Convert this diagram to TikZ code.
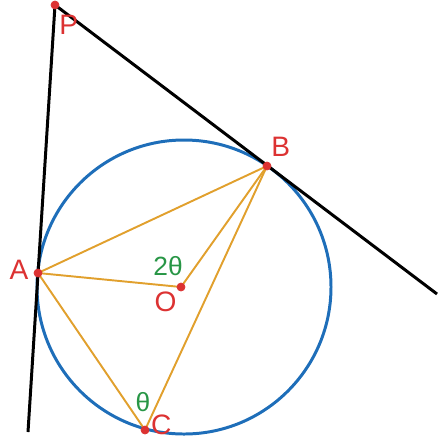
\documentclass[tikz,border=0pt]{standalone}
\usepackage{fontspec}
\setmainfont{Liberation Sans}
\definecolor{circblue}{RGB}{30,110,185}
\definecolor{chordorange}{RGB}{225,160,45}
\definecolor{ptred}{RGB}{220,50,50}
\definecolor{anggreen}{RGB}{40,150,70}
\tikzset{
  tangent/.style={line width=1.7pt, black},
  chord/.style={line width=1.1pt, chordorange},
  lbl/.style={text=ptred, font=\fontsize{16}{18}\selectfont},
  anglbl/.style={text=anggreen, font=\fontsize{15}{18}\selectfont}
}
\begin{document}
\begin{tikzpicture}[x=0.02cm, y=-0.02cm]
      \useasboundingbox (0,0) rectangle (445,444);
      % points
      \coordinate (P) at (55,5);
      \coordinate (A) at (38,273);
      \coordinate (B) at (267,166);
      \coordinate (C) at (145,430);
      \coordinate (O) at (181,287);
      \coordinate (t1) at (28,432);
      \coordinate (t2) at (437,294);
      % circle
      \draw[circblue, line width=1.7pt] (184,287) circle (147);
      % chords
      \draw[chord] (A) -- (B) -- (C) -- cycle;
      \draw[chord] (A) -- (O) -- (B);
      % tangents
      \draw[tangent] (P) -- (t1);
      \draw[tangent] (P) -- (t2);
      % dots and labels
      \filldraw[ptred] (P) circle (4) node[lbl, anchor=north west, xshift=-1pt, yshift=-2pt] (lP) {P};
      \filldraw[ptred] (B) circle (4) node[lbl, anchor=south west, xshift=-1pt, yshift=2pt] (lB) {B};
      \filldraw[ptred] (A) circle (4) node[lbl, anchor=east, xshift=-2pt, yshift=2pt] (lA) {A};
      \filldraw[ptred] (O) circle (4) node[lbl, anchor=north east, xshift=1pt, yshift=1pt] (lO) {O};
      \filldraw[ptred] (C) circle (4) node[lbl, anchor=west, xshift=0pt, yshift=3pt] (lC) {C};
      \node[anglbl] (a2) at (168,266) {2θ};
      \node[anglbl] (a1) at (143,402) {θ};
\end{tikzpicture}
\end{document}
